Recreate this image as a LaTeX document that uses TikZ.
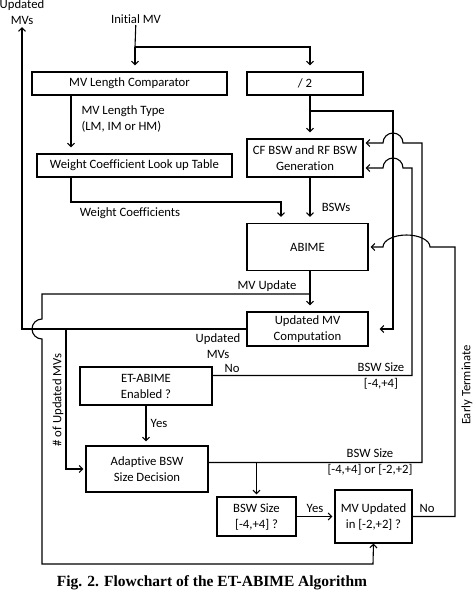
\documentclass[tikz,border=0pt]{standalone}
\usepackage{fontspec}
\setmainfont{Carlito}[Ligatures=NoCommon]
\newfontfamily\capfont{Liberation Serif}
\usetikzlibrary{arrows.meta}

\begin{document}
\begin{tikzpicture}[x=1pt,y=-1pt,line width=1.1pt,>={Straight Barb[length=3.5pt,width=7pt]}]
  \tikzstyle{every node}=[font=\fontsize{12.7}{16}\selectfont,inner sep=1pt]
  \tikzstyle{box}=[draw,align=center,inner sep=0pt]
  \tikzstyle{gap}=[->,shorten >=6pt]
  \tikzstyle{tip}=[->,shorten >=2pt]

  \useasboundingbox (0,0) rectangle (474,590);

  % Define the boxes
  \node[box,minimum width=195pt,minimum height=23pt] (lc) at (129.5,83.5) {MV Length Comparator};
  \node[box,minimum width=116pt,minimum height=23pt] (half) at (305,83.5) {/ 2};
  \node[box,minimum width=195pt,minimum height=23pt] (wlut) at (134.5,165.5) {Weight Coefficient Look up Table};
  \node[box,minimum width=116pt,minimum height=38pt] (gen) at (305,158) {CF BSW and RF BSW\\Generation};
  \node[box,minimum width=121pt,minimum height=47pt] (abime) at (307.5,247) {ABIME};
  \node[box,minimum width=121pt,minimum height=34pt] (umc) at (307.5,329) {Updated MV\\Computation};
  \node[box,minimum width=132pt,minimum height=38pt] (et) at (146,386) {ET-ABIME\\Enabled ?};
  \node[box,minimum width=122pt,minimum height=46pt] (abs) at (147,469) {Adaptive BSW\\Size Decision};
  \node[box,minimum width=79pt,minimum height=39pt] (bsw) at (256.5,516.5) {BSW Size\\{[-4,+4]} ?};
  \node[box,minimum width=77pt,minimum height=53pt] (mvu) at (373.5,516.5) {MV Updated\\in [-2,+2] ?};

  % Define the end texts
  \node (init) at (136,19) {Initial MV};
  \node[align=center] (out) at (22,12) {Updated\\MVs};

  % Define the line columns
  \coordinate (col) at (310,0);
  \coordinate (lcol) at (71,0);
  \coordinate (l1) at (22,0);
  \coordinate (l3) at (66,0);
  \coordinate (split) at (135,47);
  \coordinate (r1) at (393,111);
  \coordinate (wc) at (281,202);
  \coordinate (br2) at (310,294);
  \coordinate (l2) at (42,294);
  \coordinate (hop1) at (42,319);
  \coordinate (bot) at (373,564);
  \coordinate (r2) at (412,168);
  \coordinate (hop2) at (403,168);
  \coordinate (r3) at (422,143);
  \coordinate (hop3) at (403,143);
  \coordinate (r4) at (455,247);
  \coordinate (hop4) at (430,247);
  \coordinate (absout) at ([yshift=-17pt]abs.north east);

  % Draw the top of the flow
  \draw (init) -- (split);
  \draw[gap] (split) -- (split |- lc.north);
  \draw[gap] (split) -| (col |- half.north);
  \draw[gap] (lcol |- lc.south) -- (lcol |- wlut.north);
  \draw[gap] (col |- half.south) -- (col |- gen.north);
  \draw[->,shorten >=11pt] (col |- r1) -- (r1) -- (r1 |- umc.east) -- (umc.east);
  \draw[gap] (lcol |- wlut.south) |- (wc) -- (wc |- abime.north);
  \draw[gap] (col |- gen.south) -- (col |- abime.north);
  \draw[gap] (col |- abime.south) -- (col |- umc.north);

  % Draw the loop back to the check box
  \draw[->] (br2) -- (l2) -- (hop1) arc[start angle=90,end angle=270,radius=10pt] -- (l2 |- bot) -- (bot) -- (mvu.south);

  % Draw the outputs of the computation
  \draw[->,shorten >=1pt] (umc.west) -- (l1 |- umc.west) -- (out.south);
  \draw[tip] (l3 |- umc.west) |- (abs.west);

  % Draw the decisions
  \draw[->,shorten >=4pt] (et.south) -- (et.south |- abs.north);
  \draw[tip] ([yshift=-9pt]et.north east) -| (r2) -- (hop2) arc[start angle=0,end angle=180,radius=10pt] -- (gen.east |- r2);
  \draw[tip] (absout) -| (r3) -- (hop3) arc[start angle=0,end angle=180,radius=10pt] -- (gen.east |- r3);
  \draw[tip] (bsw.north |- absout) -- (bsw.north);
  \draw[tip] (bsw.east) -- (mvu.west);
  \draw[tip] (mvu.east) -| (r4) -- (hop4) arc[start angle=0,end angle=180,x radius=23.5pt,y radius=12pt] -- (abime.east);

  % Define the labels
  \node[align=left,anchor=west] (ltype) at (80,119) {MV Length Type\\(LM, IM or HM)};
  \node (wlab) at (130,213) {Weight Coefficients};
  \node (bsws) at (336,207) {BSWs};
  \node (mvlab) at (267,286) {MV Update};
  \node[align=center] (updlab) at (218,346) {Updated\\MVs};
  \node[rotate=90] (numlab) at (58,400) {\# of Updated MVs};
  \node (nolab1) at (232,368) {No};
  \node[align=center] (size1) at (381,376) {BSW Size\\{[-4,+4]}};
  \node (yeslab1) at (159,423) {Yes};
  \node[align=center] (size2) at (370,462) {BSW Size\\{[-4,+4] or [-2,+2]}};
  \node (yeslab2) at (315,508) {Yes};
  \node (nolab2) at (427,508) {No};
  \node[rotate=90] (etlab) at (467,385) {Early Terminate};
  \node[font=\capfont\bfseries\fontsize{15.5}{18}\selectfont,anchor=base] (cap) at (212,586) {Fig. 2. Flowchart of the ET-ABIME Algorithm};
\end{tikzpicture}
\end{document}
